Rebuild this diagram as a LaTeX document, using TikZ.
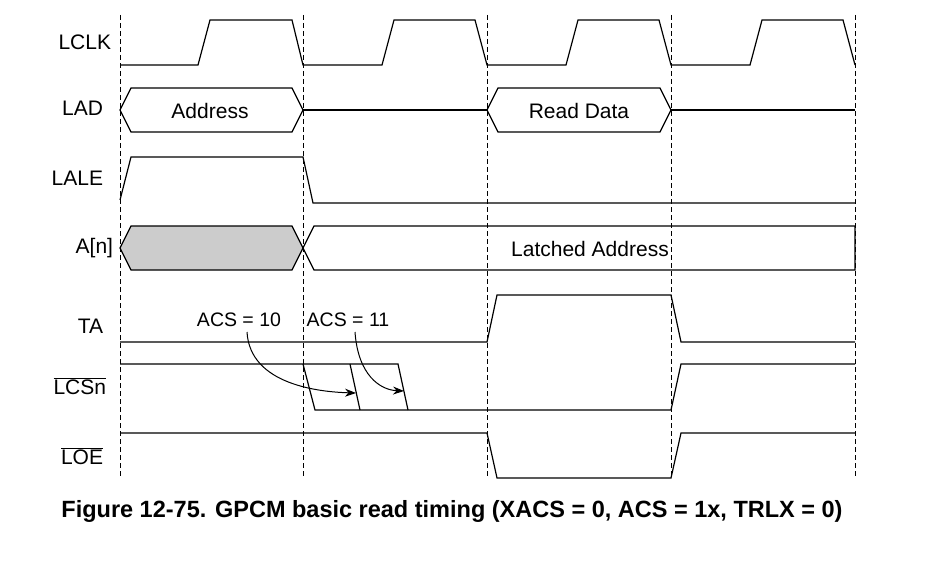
\documentclass[tikz,border=0pt]{standalone}
\usepackage{fontspec}
\setmainfont{Liberation Sans}
\usetikzlibrary{arrows.meta}
\begin{document}
\begin{tikzpicture}[x=1pt,y=-1pt,line width=1.2pt,
  sig/.style={line width=1.2pt},
  grid/.style={line width=0.9pt,dash pattern=on 5pt off 3pt},
  lbl/.style={anchor=east,font=\fontsize{21}{24}\selectfont},
  txt/.style={font=\fontsize{21}{24}\selectfont},
  acs/.style={font=\fontsize{19.5}{22}\selectfont},
  arr/.style={line width=1pt,-{Stealth[length=11pt,width=8pt]}}]
\useasboundingbox (0,0) rectangle (941,580);
\foreach \x in {120,303,487,671,855} \draw[grid] (\x,15) -- (\x,478);
% labels
\node[lbl] (l1) at (115,42) {LCLK};
\node[lbl] (l2) at (107,108) {LAD};
\node[lbl] (l3) at (107,178) {LALE};
\node[lbl] (l4) at (117,248) {A[n]};
\node[lbl] (l5) at (107,326) {TA};
\node[lbl] (l6) at (110,386) {$\overline{\mbox{LCSn}}$};
\node[lbl] (l7) at (107,456) {$\overline{\mbox{LOE}}$};
% LCLK
\draw[sig] (120,65) -- (198,65) -- (210,20) -- (292,20) -- (303,65) -- (382,65) -- (394,20) -- (475,20) -- (487,65)
 -- (566,65) -- (578,20) -- (659,20) -- (671,65) -- (750,65) -- (762,20) -- (843,20) -- (855,65);
% LAD
\draw[sig] (120,110) -- (131,88) -- (292,88) -- (303,110) -- (292,132) -- (131,132) -- cycle;
\node[txt] (ad) at (210,111) {Address};
\draw[sig] (303,110) -- (487,110);
\draw[sig] (487,110) -- (498,88) -- (660,88) -- (671,110) -- (660,132) -- (498,132) -- cycle;
\node[txt] (rd) at (579,111) {Read Data};
\draw[sig] (671,110) -- (855,110);
% LALE
\draw[sig] (120,200) -- (131,157) -- (303,157) -- (313,203) -- (855,203);
% A[n]
\draw[sig,fill=black!20] (120,248) -- (131,226) -- (292,226) -- (303,248) -- (292,270) -- (131,270) -- cycle;
\draw[sig] (303,248) -- (314,226) -- (855,226) -- (855,270) -- (314,270) -- cycle;
\node[txt] (la) at (590,249) {Latched Address};
% TA
\draw[sig] (120,342) -- (487,342) -- (497,295) -- (671,295) -- (681,342) -- (855,342);
% LCSn
\draw[sig] (120,364) -- (398,364) -- (408,410);
\draw[sig] (303,364) -- (315,410) -- (671,410) -- (681,364) -- (855,364);
\draw[sig] (350,364) -- (360,410);
\node[acs] (a10) at (239,320) {ACS = 10};
\node[acs] (a11) at (348,320) {ACS = 11};
\draw[arr] (247,332) .. controls (250,385) and (320,392) .. (356,393);
\draw[arr] (355,332) .. controls (358,375) and (380,390) .. (404,391);
% LOE
\draw[sig] (120,433) -- (487,433) -- (497,478) -- (671,478) -- (681,433) -- (855,433);
% caption
\node[font=\bfseries\fontsize{23.5}{26}\selectfont] (cap) at (452,511) {Figure 12-75. GPCM basic read timing (XACS = 0, ACS = 1x, TRLX = 0)};
\end{tikzpicture}
\end{document}
